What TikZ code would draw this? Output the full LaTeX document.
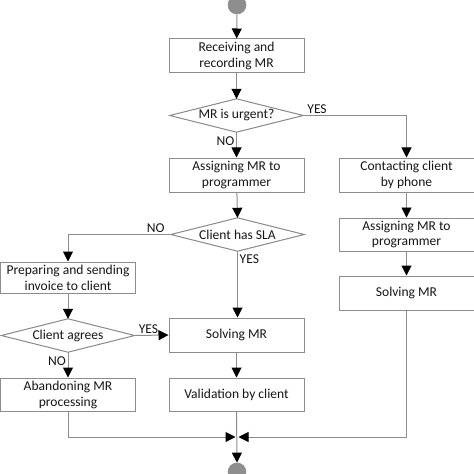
\documentclass[tikz,border=0pt]{standalone}
\usepackage{fontspec}
\setmainfont{Carlito}
\usetikzlibrary{arrows.meta,calc}
\definecolor{ln}{HTML}{8C8C8C}
\definecolor{tx}{HTML}{151515}
\definecolor{dot}{HTML}{8E8E8E}
\tikzset{
  box/.style={draw=ln,line width=1pt,rectangle,minimum width=135bp,minimum height=34bp,inner sep=1pt,align=center,text=tx,font=\fontsize{13.6}{16}\selectfont},
  dia/.style={rectangle,minimum width=133bp,minimum height=33bp,inner sep=0pt,align=center,text=tx,font=\fontsize{13.6}{16}\selectfont},
  conn/.style={draw=ln,line width=1pt,-{Triangle[length=10bp,width=10bp,fill=black,color=black]}},
  plain/.style={draw=ln,line width=1pt},
  lab/.style={text=tx,font=\fontsize{13.6}{15}\selectfont,inner sep=1pt},
  term/.style={circle,fill=dot,draw=ln,line width=0.6pt,minimum size=18bp,inner sep=0pt}
}
\newcommand{\drawdia}[1]{\draw[plain] (#1.west)--(#1.north)--(#1.east)--(#1.south)--cycle;}
\begin{document}
\begin{tikzpicture}[x=1bp,y=-1bp]
\useasboundingbox (0,0) rectangle (474,474);
\node[term] (start) at (237,5) {};
\node[box] (recv) at (236.5,56) {Receiving and\\recording MR};
\node[dia] (urg) at (236.5,115.5) {MR is urgent?};
\drawdia{urg}
\node[box] (as1) at (236.5,175) {Assigning MR to\\programmer};
\node[box] (cont) at (406.5,175) {Contacting client\\by phone};
\node[dia] (sla) at (237.5,234.5) {Client has SLA};
\drawdia{sla}
\node[box,minimum height=33bp] (as2) at (406.5,234.5) {Assigning MR to\\programmer};
\node[box] (solR) at (406.5,293) {Solving MR};
\node[box,minimum height=31bp] (inv) at (68,277.5) {Preparing and sending\\invoice to client};
\node[dia] (agr) at (68,335.5) {Client agrees};
\drawdia{agr}
\node[box] (solM) at (236.5,335) {Solving MR};
\node[box,minimum height=33bp] (val) at (236.5,394.5) {Validation by client};
\node[box,minimum height=33bp] (ab) at (68,394.5) {Abandoning MR\\processing};
\coordinate (mL) at (235.5,437);
\coordinate (mR) at (238.5,437);
\node[term] (end) at (237,472) {};

\draw[conn] (start) -- (recv);
\draw[conn] (recv) -- (urg.south |- urg.north);
\draw[conn] (urg.south) -- (as1);
\draw[conn] (urg.east) -| (cont.north);
\draw[conn] (as1) -- (sla.north);
\draw[conn] (sla.west) -| (inv.north);
\draw[conn] (sla.south) -- (solM.north -| sla.south);
\draw[conn] (cont) -- (as2);
\draw[conn] (as2) -- (solR);
\draw[conn] (inv) -- (agr.north);
\draw[conn] (agr.east) -- (solM.west);
\draw[conn] (agr.south) -- (ab.north);
\draw[conn] (solM) -- (val);
\draw[conn] (val.south) -- (end.north);
\draw[conn] (ab.south) |- (mL);
\draw[conn] (solR.south) |- (mR);

\node[lab,anchor=south west] (l1) at ($(urg.east)+(3,-1)$) {YES};
\node[lab,anchor=east] (l2) at ($(urg.south)+(-1,9)$) {NO};
\node[lab,anchor=south east] (l3) at ($(sla.west)+(-5,-1)$) {NO};
\node[lab,anchor=west] (l4) at ($(sla.south)+(1,8)$) {YES};
\node[lab,anchor=south west] (l5) at ($(agr.east)+(3,-0.5)$) {YES};
\node[lab,anchor=east] (l6) at ($(agr.south)+(-1,9)$) {NO};
\end{tikzpicture}
\end{document}
